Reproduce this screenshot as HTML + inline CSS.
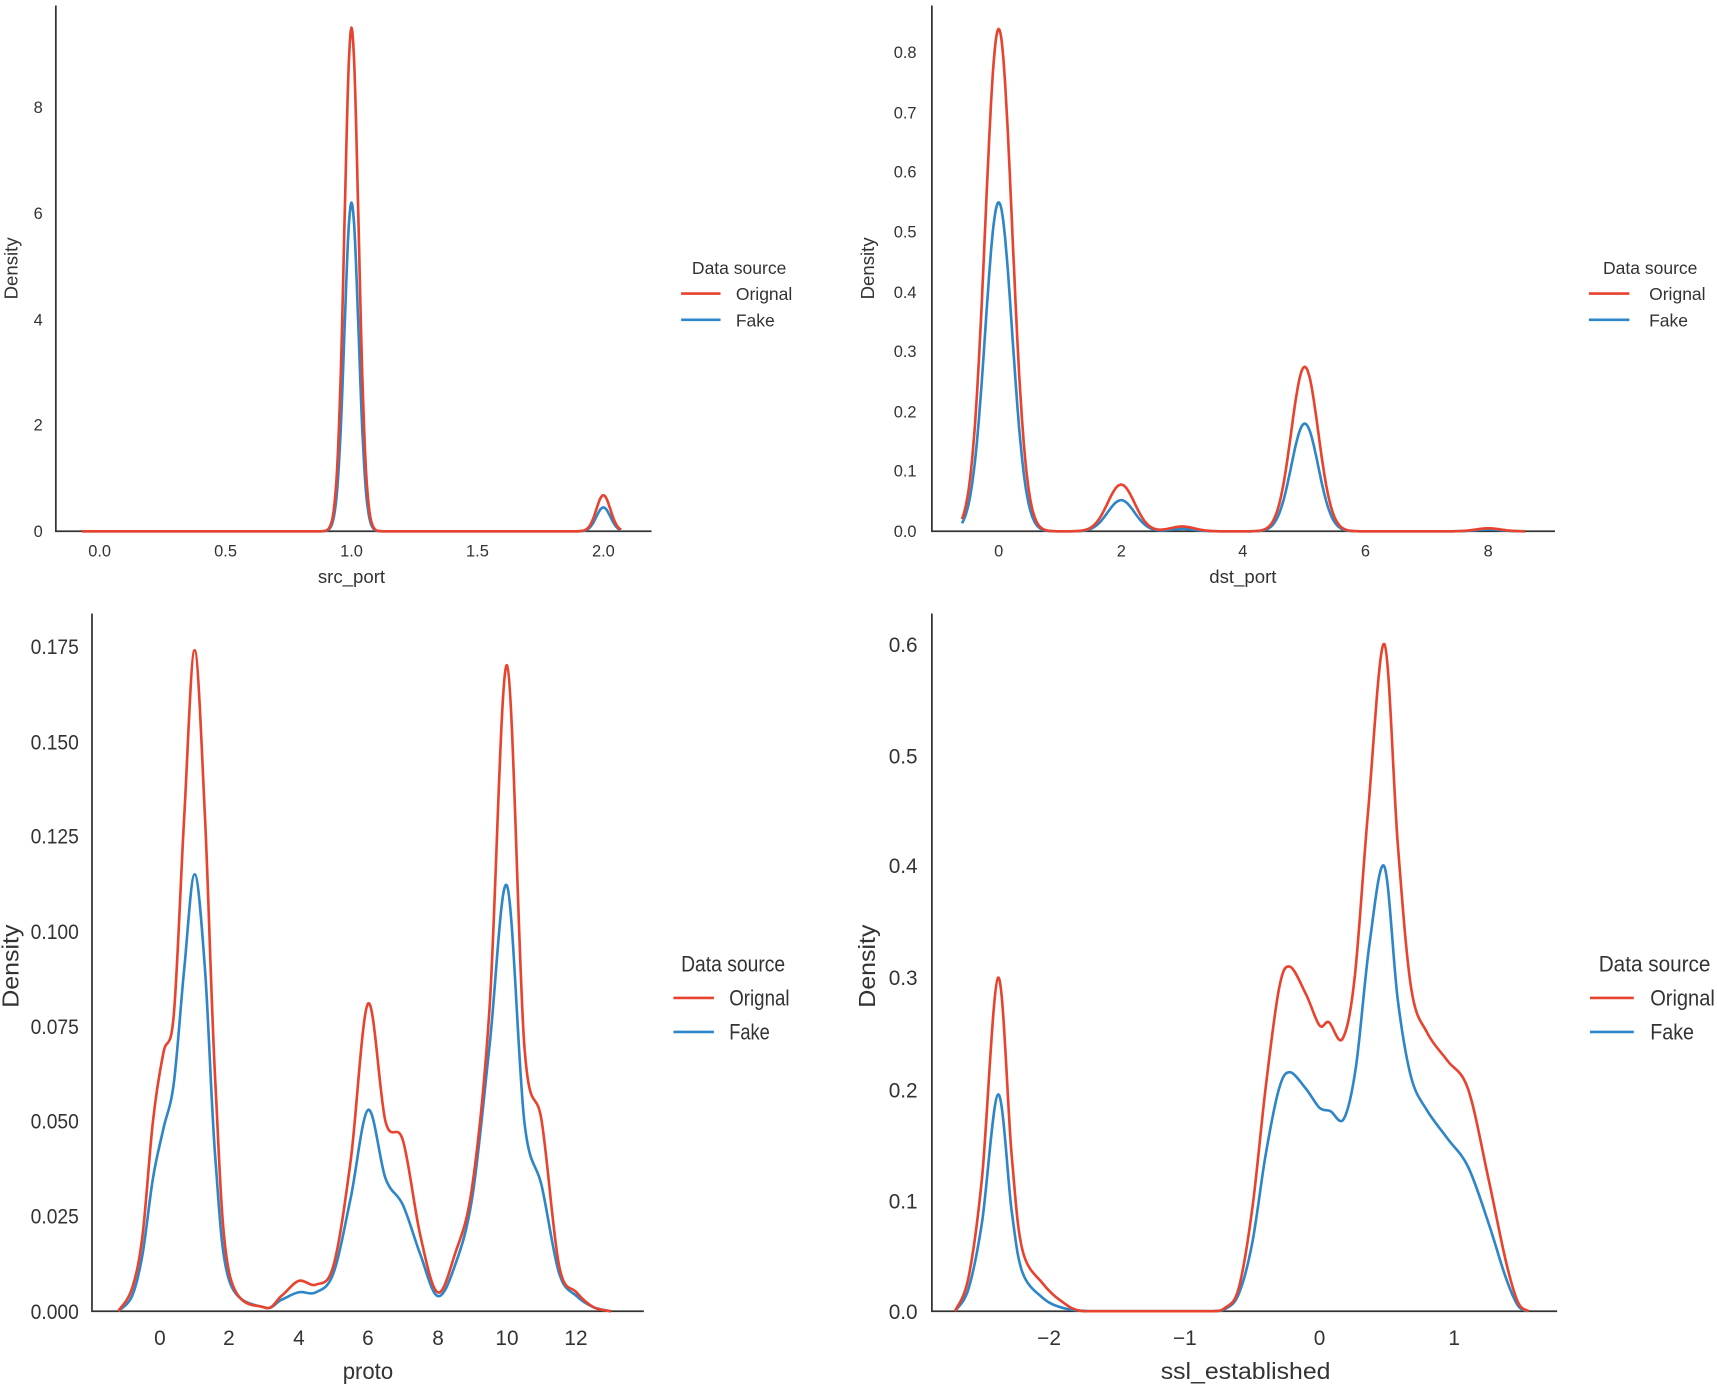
<!DOCTYPE html>
<html><head><meta charset="utf-8"><style>
html,body{margin:0;padding:0;background:#fff;}
svg{display:block;}
text{font-family:"Liberation Sans",sans-serif;fill:#333;}
</style></head><body>
<svg id="s" width="1717" height="1389" viewBox="0 0 1568 1268" preserveAspectRatio="none" xmlns="http://www.w3.org/2000/svg">
<g stroke="#333" stroke-width="1.6" fill="none">
<path d="M51 5V485H595"/>
<path d="M851 5V485H1420"/>
<path d="M84 560V1197H588"/>
<path d="M851 560V1197H1422"/>
</g>
<g font-size="15" text-anchor="end">
<text x="39" y="490">0</text><text x="39" y="393">2</text><text x="39" y="297">4</text><text x="39" y="200">6</text><text x="39" y="103">8</text>
<text x="837" y="490">0.0</text><text x="837" y="435">0.1</text><text x="837" y="381">0.2</text><text x="837" y="326">0.3</text><text x="837" y="272">0.4</text><text x="837" y="217">0.5</text><text x="837" y="162">0.6</text><text x="837" y="108">0.7</text><text x="837" y="53">0.8</text>
</g>
<g font-size="15" text-anchor="middle">
<text x="91" y="508">0.0</text><text x="206" y="508">0.5</text><text x="321" y="508">1.0</text><text x="436" y="508">1.5</text><text x="551" y="508">2.0</text>
<text x="912" y="508">0</text><text x="1024" y="508">2</text><text x="1135" y="508">4</text><text x="1247" y="508">6</text><text x="1359" y="508">8</text>
<text x="321" y="532" font-size="17">src_port</text>
<text x="1135" y="532" font-size="17">dst_port</text>
<text transform="translate(16,245) rotate(-90)" font-size="17">Density</text>
<text transform="translate(798,245) rotate(-90)" font-size="17">Density</text>
<text x="675" y="250" font-size="16">Data source</text>
<text x="1507" y="250" font-size="16">Data source</text>
</g>
<g font-size="16">
<text x="672" y="274">Orignal</text><text x="672" y="298">Fake</text>
<text x="1506" y="274">Orignal</text><text x="1506" y="298">Fake</text>
</g>
<g font-size="19" text-anchor="end">
<text x="72" y="1204" textLength="44" lengthAdjust="spacingAndGlyphs">0.000</text><text x="72" y="1117" textLength="44" lengthAdjust="spacingAndGlyphs">0.025</text><text x="72" y="1030" textLength="44" lengthAdjust="spacingAndGlyphs">0.050</text><text x="72" y="944" textLength="44" lengthAdjust="spacingAndGlyphs">0.075</text><text x="72" y="857" textLength="44" lengthAdjust="spacingAndGlyphs">0.100</text><text x="72" y="770" textLength="44" lengthAdjust="spacingAndGlyphs">0.125</text><text x="72" y="684" textLength="44" lengthAdjust="spacingAndGlyphs">0.150</text><text x="72" y="597" textLength="44" lengthAdjust="spacingAndGlyphs">0.175</text>
<text x="838" y="1204">0.0</text><text x="838" y="1103">0.1</text><text x="838" y="1002">0.2</text><text x="838" y="899">0.3</text><text x="838" y="797">0.4</text><text x="838" y="697">0.5</text><text x="838" y="595">0.6</text>
</g>
<g font-size="19" text-anchor="middle">
<text x="146" y="1228">0</text><text x="209" y="1228">2</text><text x="273" y="1228">4</text><text x="336" y="1228">6</text><text x="400" y="1228">8</text><text x="463" y="1228">10</text><text x="526" y="1228">12</text>
<text x="958" y="1228">−2</text><text x="1082" y="1228">−1</text><text x="1205" y="1228">0</text><text x="1328" y="1228">1</text>
</g>
<g font-size="21">
<text x="313" y="1259" textLength="46" lengthAdjust="spacingAndGlyphs">proto</text>
<text x="1060" y="1259" textLength="155" lengthAdjust="spacingAndGlyphs">ssl_established</text>
<text transform="translate(17,920) rotate(-90)" textLength="76" lengthAdjust="spacingAndGlyphs">Density</text>
<text transform="translate(799,920) rotate(-90)" textLength="76" lengthAdjust="spacingAndGlyphs">Density</text>
<text x="622" y="887" font-size="20" textLength="95" lengthAdjust="spacingAndGlyphs">Data source</text>
<text x="1460" y="887" font-size="20" textLength="102" lengthAdjust="spacingAndGlyphs">Data source</text>
<text x="666" y="918" font-size="20" textLength="55" lengthAdjust="spacingAndGlyphs">Orignal</text><text x="666" y="949" font-size="20" textLength="37" lengthAdjust="spacingAndGlyphs">Fake</text>
<text x="1507" y="918" font-size="20" textLength="59" lengthAdjust="spacingAndGlyphs">Orignal</text><text x="1507" y="949" font-size="20" textLength="40" lengthAdjust="spacingAndGlyphs">Fake</text>
</g>
<g stroke-width="2.4">
<path d="M622 268H658M1451 268H1488M615 911H652M1452 911H1492" stroke="#e8432e"/>
<path d="M622 292H658M1451 292H1488M615 942H652M1452 942H1492" stroke="#2e86c8"/>
</g>
<g id="curves" fill="none" stroke-width="2.4" stroke-linejoin="round"></g>
</svg>
<script>
var g=document.getElementById('curves');
function add(d,c){var p=document.createElementNS('http://www.w3.org/2000/svg','path');p.setAttribute('d',d);p.setAttribute('stroke',c);g.appendChild(p);}
function gauss(x0,x1,comps,X,Y){var d='';for(var i=0;i<=600;i++){var x=x0+(x1-x0)*i/600,y=0;comps.forEach(function(c){y+=c[0]*Math.exp(-0.5*Math.pow((x-c[1])/c[2],2));});d+=(i?'L':'M')+X(x).toFixed(1)+' '+Y(y).toFixed(1);}return d;}
function cr(pts,X,Y){var P=pts.map(function(p){return [X(p[0]),Y(p[1])];});var d='M'+P[0][0]+' '+P[0][1];for(var i=0;i<P.length-1;i++){var p0=P[Math.max(0,i-1)],p1=P[i],p2=P[i+1],p3=P[Math.min(P.length-1,i+2)];var c1=[p1[0]+(p2[0]-p0[0])/6,p1[1]+(p2[1]-p0[1])/6],c2=[p2[0]-(p3[0]-p1[0])/6,p2[1]-(p3[1]-p1[1])/6];var base=Y(0);c1[1]=Math.min(c1[1],base);c2[1]=Math.min(c2[1],base);d+='C'+c1[0].toFixed(1)+' '+c1[1].toFixed(1)+' '+c2[0].toFixed(1)+' '+c2[1].toFixed(1)+' '+p2[0].toFixed(1)+' '+p2[1].toFixed(1);}return d;}
var X1=function(x){return 91+230*x},Y1=function(y){return 485-48.4*y};
add(gauss(-0.07,2.07,[[6.2,1,0.028],[0.45,2,0.028]],X1,Y1),'#2e86c8');
add(gauss(-0.07,2.07,[[9.5,1,0.028],[0.68,2,0.028]],X1,Y1),'#e8432e');
var X2=function(x){return 912+55.9*x},Y2=function(y){return 485-546*y};
add(gauss(-0.6,8.6,[[0.55,0,0.22],[0.052,2,0.22],[0.004,3,0.2],[0.18,5,0.22],[0.003,8,0.2]],X2,Y2),'#2e86c8');
add(gauss(-0.6,8.6,[[0.84,0,0.22],[0.078,2,0.22],[0.008,3,0.2],[0.275,5,0.22],[0.005,8,0.2]],X2,Y2),'#e8432e');
var X3=function(x){return 146+31.7*x},Y3=function(y){return 1197-3468*y};
add(cr([[-1.2,0],[-0.8,0.004],[-0.5,0.015],[-0.2,0.035],[0.1,0.048],[0.4,0.06],[0.7,0.09],[1,0.115],[1.3,0.09],[1.6,0.04],[2,0.008],[3,0.001],[3.5,0.003],[4,0.005],[4.5,0.005],[5,0.01],[5.5,0.03],[6,0.053],[6.5,0.035],[7,0.028],[7.5,0.015],[8,0.004],[8.5,0.012],[9,0.03],[9.5,0.07],[10,0.112],[10.5,0.05],[11,0.033],[11.5,0.01],[12,0.004],[12.5,0.001],[13,0]],X3,Y3),'#2e86c8');
add(cr([[-1.2,0],[-0.8,0.006],[-0.5,0.02],[-0.2,0.05],[0.1,0.068],[0.4,0.078],[0.7,0.13],[1,0.174],[1.3,0.13],[1.6,0.06],[2,0.01],[3,0.001],[3.5,0.004],[4,0.008],[4.5,0.007],[5,0.012],[5.5,0.04],[6,0.081],[6.5,0.05],[7,0.045],[7.5,0.02],[8,0.005],[8.5,0.015],[9,0.033],[9.5,0.08],[10,0.170],[10.5,0.07],[11,0.05],[11.5,0.012],[12,0.005],[12.5,0.001],[13,0]],X3,Y3),'#e8432e');
var X4=function(x){return 1205+123.3*x},Y4=function(y){return 1197-1015*y};
add(cr([[-2.7,0],[-2.6,0.02],[-2.5,0.08],[-2.38,0.195],[-2.28,0.09],[-2.2,0.035],[-2.05,0.012],[-1.9,0.003],[-1.7,0],[-1.4,0],[-1.1,0],[-0.8,0],[-0.7,0.002],[-0.6,0.015],[-0.5,0.06],[-0.4,0.14],[-0.3,0.2],[-0.22,0.215],[-0.1,0.2],[0,0.183],[0.08,0.18],[0.18,0.173],[0.27,0.22],[0.37,0.33],[0.48,0.4],[0.58,0.28],[0.68,0.21],[0.8,0.18],[0.95,0.155],[1.1,0.13],[1.25,0.08],[1.38,0.03],[1.47,0.005],[1.55,0]],X4,Y4),'#2e86c8');
add(cr([[-2.7,0],[-2.6,0.03],[-2.5,0.12],[-2.38,0.3],[-2.28,0.14],[-2.2,0.055],[-2.05,0.025],[-1.9,0.008],[-1.75,0],[-1.4,0],[-1.1,0],[-0.8,0],[-0.7,0.003],[-0.6,0.02],[-0.5,0.09],[-0.4,0.2],[-0.3,0.29],[-0.22,0.31],[-0.1,0.285],[0,0.257],[0.07,0.26],[0.17,0.245],[0.26,0.3],[0.36,0.45],[0.48,0.6],[0.58,0.42],[0.68,0.29],[0.8,0.25],[0.95,0.225],[1.1,0.2],[1.25,0.12],[1.38,0.045],[1.47,0.008],[1.55,0]],X4,Y4),'#e8432e');
</script>
</body></html>
